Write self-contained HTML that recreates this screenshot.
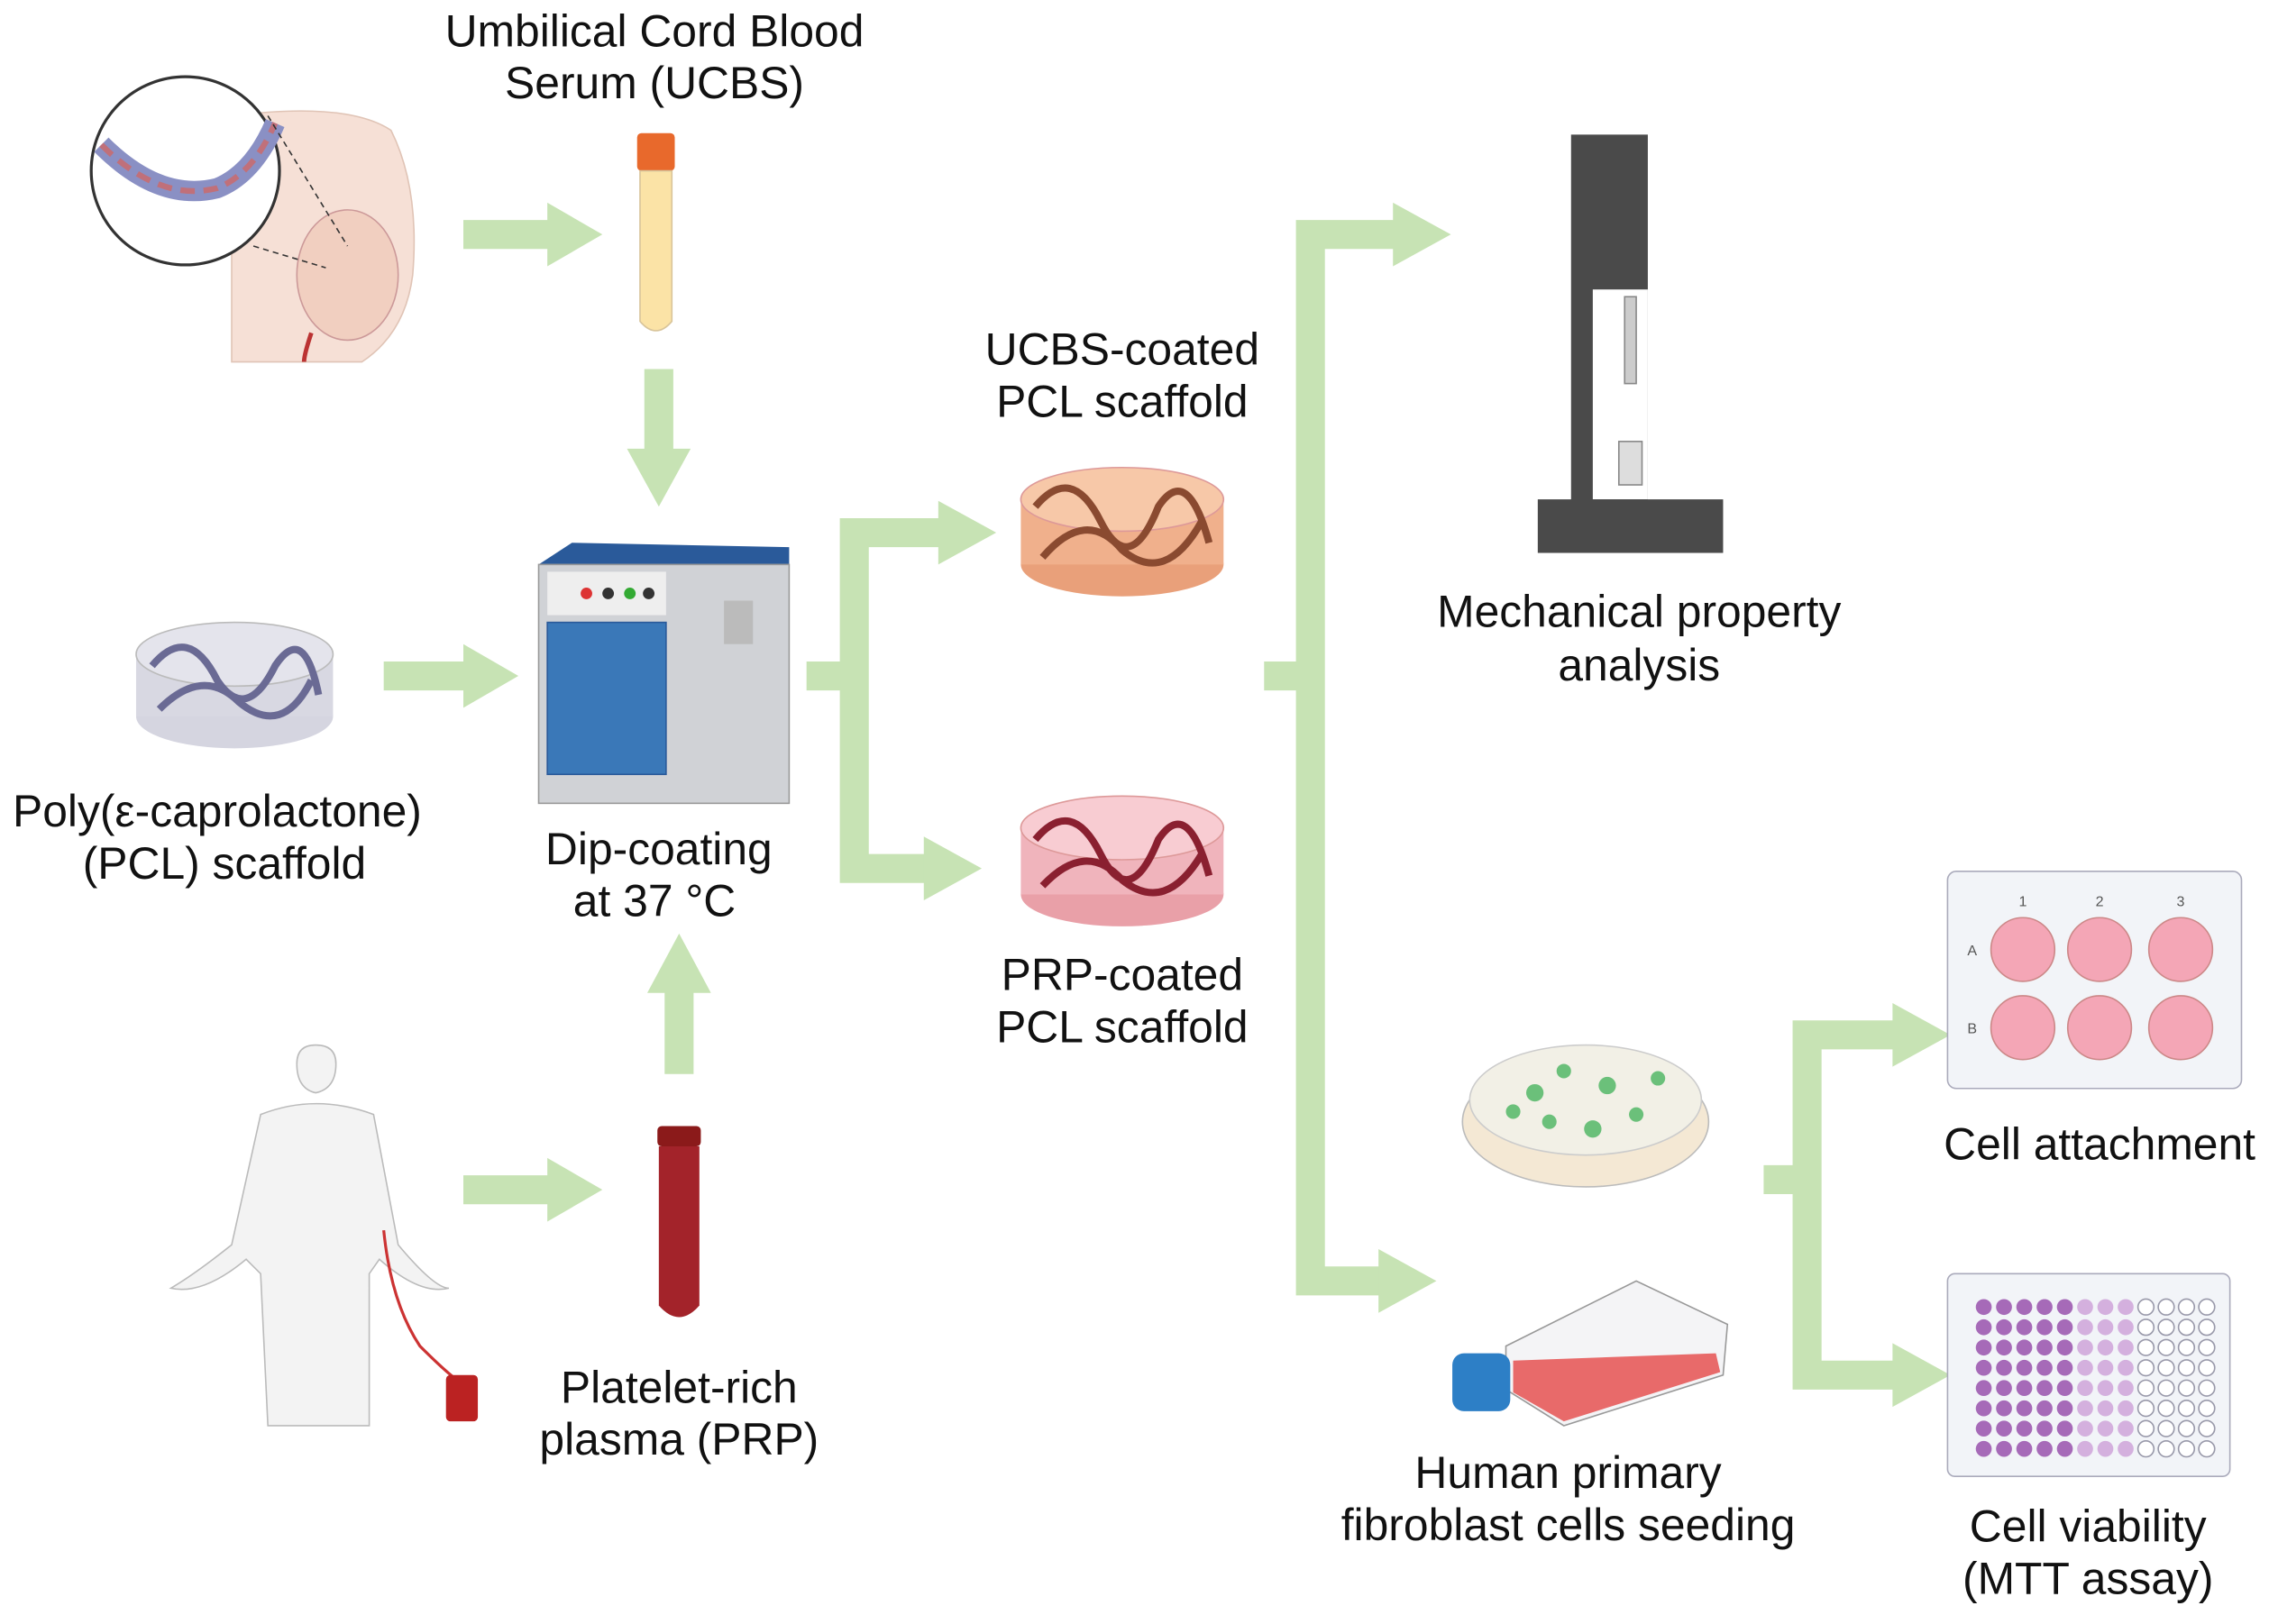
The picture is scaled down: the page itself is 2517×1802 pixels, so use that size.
<!DOCTYPE html>
<html><head><meta charset="utf-8"><style>
html,body{margin:0;padding:0;background:#fff;}
svg{display:block;}
text{font-family:"Liberation Sans",Arial,sans-serif;font-size:31px;fill:#111;text-anchor:middle;}
text.sm{font-size:10px;fill:#555;}
</style></head><body>
<svg width="2517" height="1802" viewBox="0 0 1567 1122" preserveAspectRatio="none" xmlns="http://www.w3.org/2000/svg">
<g fill="none" stroke="#c7e3b4" stroke-width="20">
<line x1="320" y1="162" x2="380" y2="162"/>
<line x1="455" y1="255" x2="455" y2="312"/>
<line x1="265" y1="467" x2="322" y2="467"/>
<line x1="469" y1="742" x2="469" y2="684"/>
<line x1="320" y1="822" x2="380" y2="822"/>
<line x1="557" y1="467" x2="590" y2="467"/>
<polyline points="650,368 590,368 590,600 640,600"/>
<line x1="873" y1="467" x2="905" y2="467"/>
<polyline points="965,162 905,162 905,885 955,885"/>
<line x1="1218" y1="815" x2="1248" y2="815"/>
<polyline points="1310,715 1248,715 1248,950 1310,950"/>
</g>
<g fill="#c7e3b4">
<polygon points="378,140 416,162 378,184"/>
<polygon points="433,310 455,350 477,310"/>
<polygon points="320,445 358,467 320,489"/>
<polygon points="447,686 469,645 491,686"/>
<polygon points="378,800 416,822 378,844"/>
<polygon points="648,346 688,368 648,390"/>
<polygon points="638,578 678,600 638,622"/>
<polygon points="962,140 1002,162 962,184"/>
<polygon points="952,863 992,885 952,907"/>
<polygon points="1307,693 1347,715 1307,737"/>
<polygon points="1307,928 1347,950 1307,972"/>
</g>

<path d="M160,80 Q240,70 270,90 Q290,130 285,190 Q280,230 250,250 L160,250 Z" fill="#f6e0d6" stroke="#e0c4b6"/>
<ellipse cx="240" cy="190" rx="35" ry="45" fill="#f1cfc0" stroke="#c99"/>
<path d="M215,230 Q210,245 210,250" stroke="#b33" stroke-width="3" fill="none"/>
<circle cx="128" cy="118" r="65" fill="#fff" stroke="#333" stroke-width="2"/>
<path d="M70,100 Q110,140 150,130 Q175,120 190,85" stroke="#8a90c4" stroke-width="14" fill="none"/>
<path d="M70,100 Q110,140 150,130 Q175,120 190,85" stroke="#c0707a" stroke-width="4" fill="none" stroke-dasharray="10 6"/>
<line x1="175" y1="170" x2="225" y2="185" stroke="#333" stroke-dasharray="4 3"/>
<line x1="185" y1="80" x2="240" y2="170" stroke="#333" stroke-dasharray="4 3"/>

<rect x="440" y="92" width="26" height="26" rx="3" fill="#e8692c"/>
<path d="M442,118 L464,118 L464,222 Q453,235 442,222 Z" fill="#fbe3a6" stroke="#d8c49a"/>

<ellipse cx="162" cy="495" rx="68" ry="22" fill="#d5d5e0"/>
<rect x="94" y="452" width="136" height="43" fill="#d8d8e2"/>
<ellipse cx="162" cy="452" rx="68" ry="22" fill="#e4e4ec" stroke="#bbb"/>
<path d="M105,460 Q130,430 150,470 Q170,500 190,460 Q210,430 220,480 M110,490 Q140,460 165,485 Q195,510 215,470" stroke="#6a6a94" stroke-width="5" fill="none"/>

<polygon points="372,390 395,375 545,378 545,395" fill="#2a5a9a"/>
<rect x="372" y="390" width="173" height="165" fill="#d0d2d6" stroke="#999"/>
<rect x="378" y="430" width="82" height="105" fill="#3a78b8" stroke="#2a5a9a"/>
<rect x="378" y="395" width="82" height="30" fill="#eee"/>
<circle cx="405" cy="410" r="4" fill="#d33"/><circle cx="420" cy="410" r="4" fill="#333"/><circle cx="435" cy="410" r="4" fill="#3a3"/><circle cx="448" cy="410" r="4" fill="#333"/>
<rect x="500" y="415" width="20" height="30" fill="#bbb"/>

<path d="M205,735 Q205,722 218,722 Q232,722 232,735 Q232,752 218,755 Q205,752 205,735 Z M180,770 Q218,755 258,770 L275,860 Q300,890 310,890 Q290,895 262,870 L255,880 L255,985 L185,985 L180,880 L170,870 Q140,895 118,890 Q135,880 160,860 Z" fill="#f3f3f3" stroke="#bbb"/>
<path d="M265,850 Q270,900 290,930 Q310,950 318,955" stroke="#c33" stroke-width="2" fill="none"/>
<rect x="308" y="950" width="22" height="32" rx="3" fill="#b22"/>

<rect x="454" y="778" width="30" height="14" rx="3" fill="#8b1a1a"/>
<path d="M455,792 L483,792 L483,902 Q469,918 455,902 Z" fill="#a3232a"/>

<ellipse cx="775" cy="390" rx="70" ry="22" fill="#e9a07a"/>
<rect x="705" y="345" width="140" height="45" fill="#f0b08c"/>
<ellipse cx="775" cy="345" rx="70" ry="22" fill="#f7c8a8" stroke="#d99"/>
<path d="M715,350 Q740,320 760,360 Q780,400 800,350 Q820,320 835,375 M720,385 Q750,350 775,380 Q805,405 830,360" stroke="#8a4a30" stroke-width="5" fill="none"/>
<ellipse cx="775" cy="618" rx="70" ry="22" fill="#e9a0a8"/>
<rect x="705" y="572" width="140" height="46" fill="#f0b4bc"/>
<ellipse cx="775" cy="572" rx="70" ry="22" fill="#f8ccd2" stroke="#d99"/>
<path d="M715,580 Q740,550 760,590 Q780,630 800,580 Q820,550 835,605 M720,612 Q750,580 775,608 Q805,632 830,590" stroke="#8a2030" stroke-width="5" fill="none"/>

<rect x="1085" y="93" width="53" height="260" fill="#4a4a4a"/>
<rect x="1100" y="200" width="38" height="145" fill="#fff"/>
<rect x="1122" y="205" width="8" height="60" fill="#ccc" stroke="#888"/>
<rect x="1118" y="305" width="16" height="30" fill="#ddd" stroke="#888"/>
<rect x="1062" y="345" width="128" height="37" fill="#4a4a4a"/>

<ellipse cx="1095" cy="775" rx="85" ry="45" fill="#f4e8d4" stroke="#bbb"/>
<ellipse cx="1095" cy="760" rx="80" ry="38" fill="#f2f0e6" stroke="#ccc"/>
<g fill="#6bc07a"><circle cx="1060" cy="755" r="6"/><circle cx="1080" cy="740" r="5"/><circle cx="1110" cy="750" r="6"/><circle cx="1130" cy="770" r="5"/><circle cx="1070" cy="775" r="5"/><circle cx="1100" cy="780" r="6"/><circle cx="1145" cy="745" r="5"/><circle cx="1045" cy="768" r="5"/></g>

<polygon points="1040,930 1130,885 1193,915 1190,950 1080,985 1040,960" fill="#f4f4f6" stroke="#999"/>
<polygon points="1045,940 1185,935 1188,948 1080,982 1045,962" fill="#e86a6a"/>
<rect x="1003" y="935" width="40" height="40" rx="8" fill="#2d7fc6"/>

<rect x="1345" y="602" width="203" height="150" rx="6" fill="#f2f4f8" stroke="#aab"/>
<g fill="#f4a6b6" stroke="#c88">
<circle cx="1397" cy="656" r="22"/><circle cx="1450" cy="656" r="22"/><circle cx="1506" cy="656" r="22"/>
<circle cx="1397" cy="710" r="22"/><circle cx="1450" cy="710" r="22"/><circle cx="1506" cy="710" r="22"/></g>
<text class="sm" x="1397" y="626">1</text><text class="sm" x="1450" y="626">2</text><text class="sm" x="1506" y="626">3</text><text class="sm" x="1362" y="660">A</text><text class="sm" x="1362" y="714">B</text>

<rect x="1345" y="880" width="195" height="140" rx="5" fill="#f2f4f8" stroke="#aab"/>
<g id="row">
<g fill="#a66ab8"><circle cx="1370" cy="903" r="5.5"/><circle cx="1384" cy="903" r="5.5"/><circle cx="1398" cy="903" r="5.5"/><circle cx="1412" cy="903" r="5.5"/><circle cx="1426" cy="903" r="5.5"/></g>
<g fill="#d4b0de"><circle cx="1440" cy="903" r="5.5"/><circle cx="1454" cy="903" r="5.5"/><circle cx="1468" cy="903" r="5.5"/></g>
<g fill="#fff" stroke="#99a"><circle cx="1482" cy="903" r="5.5"/><circle cx="1496" cy="903" r="5.5"/><circle cx="1510" cy="903" r="5.5"/><circle cx="1524" cy="903" r="5.5"/></g>
</g>
<use href="#row" y="14"/><use href="#row" y="28"/><use href="#row" y="42"/><use href="#row" y="56"/><use href="#row" y="70"/><use href="#row" y="84"/><use href="#row" y="98"/>

<text x="452" y="32">Umbilical Cord Blood</text>
<text x="452" y="68">Serum (UCBS)</text>
<text x="150" y="571">Poly(ε-caprolactone)</text>
<text x="155" y="607">(PCL) scaffold</text>
<text x="455" y="597">Dip-coating</text>
<text x="452" y="633">at 37 °C</text>
<text x="469" y="969">Platelet-rich</text>
<text x="469" y="1005">plasma (PRP)</text>
<text x="775" y="252">UCBS-coated</text>
<text x="775" y="288">PCL scaffold</text>
<text x="775" y="684">PRP-coated</text>
<text x="775" y="720">PCL scaffold</text>
<text x="1132" y="433">Mechanical property</text>
<text x="1132" y="470">analysis</text>
<text x="1083" y="1028">Human primary</text>
<text x="1083" y="1064">fibroblast cells seeding</text>
<text x="1450" y="801">Cell attachment</text>
<text x="1442" y="1065">Cell viability</text>
<text x="1442" y="1101">(MTT assay)</text>
</svg>
</body></html>
